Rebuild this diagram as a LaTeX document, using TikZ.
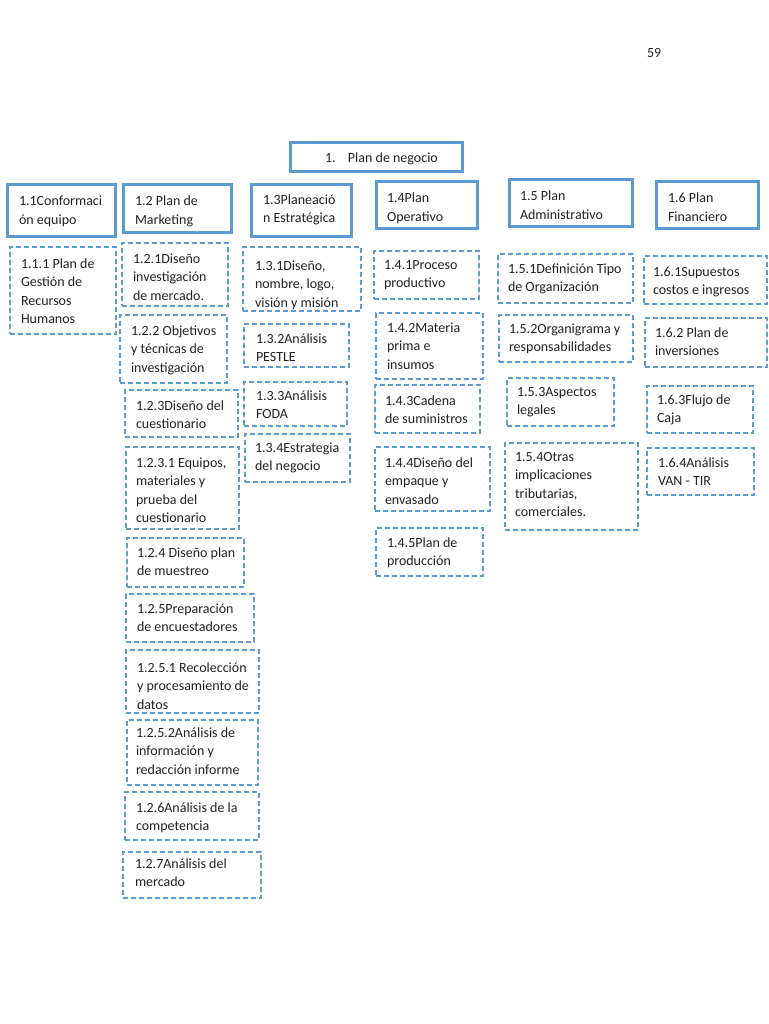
\documentclass[tikz,border=0pt]{standalone}
\usepackage{fontspec}
\setmainfont{Carlito}
\definecolor{bblue}{HTML}{5B9BD5}
\definecolor{txtc}{HTML}{222222}
\tikzset{
  solidbox/.style={draw=bblue, line width=3pt, inner sep=0pt, outer sep=0pt},
  dashbox/.style={draw=bblue, line width=1.4pt, dash pattern=on 5pt off 3pt, inner sep=0pt, outer sep=0pt},
  lbl/.style={anchor=north west, inner sep=0pt, outer sep=0pt, align=left, text=txtc,
    font=\fontsize{14}{18.5}\selectfont},
}
\newcommand\mybox[6]{\node[#6, minimum width={(#4-#2)*1pt}, minimum height={(#5-#3)*1pt}, anchor=north west] (#1) at (#2,#3) {};}
\newcommand\mytext[4]{\node[lbl] (#1) at (#2,{#3-12.95}) {\strut#4};}
\begin{document}
\begin{tikzpicture}[x=1pt,y=-1pt]
\fill[white] (0,0) rectangle (768,1024);
\useasboundingbox (0,0) rectangle (768,1024);

% page number
\mytext{pg}{647}{58}{59}

% root
\mybox{b1}{290}{143}{462}{172}{solidbox}
\mytext{t1}{325}{163}{\makebox[23pt][l]{1.}Plan de negocio}

% level 1
\mybox{b11}{7}{185}{115}{236}{solidbox}
\mytext{t11}{19}{206}{1.1Conformaci\\ón equipo}
\mybox{b12}{123}{185}{231}{233}{solidbox}
\mytext{t12}{135}{206}{1.2 Plan de\\Marketing}
\mybox{b13}{251}{185}{351}{236}{solidbox}
\mytext{t13}{263}{204}{1.3Planeació\\n Estratégica}
\mybox{b14}{376}{182}{477}{229}{solidbox}
\mytext{t14}{387}{203}{1.4Plan\\Operativo}
\mybox{b15}{509}{180}{632}{227}{solidbox}
\mytext{t15}{520}{201}{1.5 Plan\\Administrativo}
\mybox{b16}{656}{182}{758}{229}{solidbox}
\mytext{t16}{668}{203}{1.6 Plan\\Financiero}

% column 1.1
\mybox{b111}{10}{247}{116}{334}{dashbox}
\mytext{t111}{21}{268}{1.1.1 Plan de\\Gestión de\\Recursos\\Humanos}

% column 1.2
\mybox{b121}{122}{243}{228}{306}{dashbox}
\mytext{t121}{133}{263}{1.2.1Diseño\\investigación\\de mercado.}
\mybox{b122}{120}{315}{227}{383}{dashbox}
\mytext{t122}{131}{335}{1.2.2 Objetivos\\y técnicas de\\investigación}
\mybox{b123}{125}{390}{238}{437}{dashbox}
\mytext{t123}{136}{410}{1.2.3Diseño del\\cuestionario}
\mybox{b1231}{126}{447}{239}{529}{dashbox}
\mytext{t1231}{136}{467}{1.2.3.1 Equipos,\\materiales y\\prueba del\\cuestionario}
\mybox{b124}{127}{538}{244}{587}{dashbox}
\mytext{t124}{137}{557}{1.2.4 Diseño plan\\de muestreo}
\mybox{b125}{126}{594}{254}{642}{dashbox}
\mytext{t125}{137}{613}{1.2.5Preparación\\de encuestadores}
\mybox{b1251}{126}{650}{259}{713}{dashbox}
\mytext{t1251}{137}{672}{1.2.5.1 Recolección\\y procesamiento de\\datos}
\mybox{b1252}{127}{720}{258}{785}{dashbox}
\mytext{t1252}{136}{737}{1.2.5.2Análisis de\\información y\\redacción informe}
\mybox{b126}{125}{792}{259}{840}{dashbox}
\mytext{t126}{136}{812}{1.2.6Análisis de la\\competencia}
\mybox{b127}{123}{852}{261}{898}{dashbox}
\mytext{t127}{135}{868}{1.2.7Análisis del\\mercado}

% column 1.3
\mybox{b131}{243}{247}{361}{311}{dashbox}
\mytext{t131}{255}{270}{1.3.1Diseño,\\nombre, logo,\\visión y misión}
\mybox{b132}{244}{324}{349}{367}{dashbox}
\mytext{t132}{256}{343}{1.3.2Análisis\\PESTLE}
\mybox{b133}{244}{382}{347}{426}{dashbox}
\mytext{t133}{256}{400}{1.3.3Análisis\\FODA}
\mybox{b134}{245}{434}{350}{482}{dashbox}
\mytext{t134}{255}{452}{1.3.4Estrategia\\del negocio}

% column 1.4
\mybox{b141}{374}{251}{479}{299}{dashbox}
\mytext{t141}{384}{269}{1.4.1Proceso\\productivo}
\mybox{b142}{376}{313}{483}{379}{dashbox}
\mytext{t142}{387}{332}{1.4.2Materia\\prima e\\insumos}
\mybox{b143}{375}{385}{480}{433}{dashbox}
\mytext{t143}{385}{405}{1.4.3Cadena\\de suministros}
\mybox{b144}{375}{447}{490}{511}{dashbox}
\mytext{t144}{385}{467}{1.4.4Diseño del\\empaque y\\envasado}
\mybox{b145}{376}{528}{483}{576}{dashbox}
\mytext{t145}{387}{547}{1.4.5Plan de\\producción}

% column 1.5
\mybox{b151}{498}{254}{633}{303}{dashbox}
\mytext{t151}{508}{273}{1.5.1Definición Tipo\\de Organización}
\mybox{b152}{499}{315}{633}{362}{dashbox}
\mytext{t152}{509}{333}{1.5.2Organigrama y\\responsabilidades}
\mybox{b153}{507}{378}{614}{426}{dashbox}
\mytext{t153}{517}{396}{1.5.3Aspectos\\legales}
\mybox{b154}{505}{443}{638}{530}{dashbox}
\mytext{t154}{515}{461}{1.5.4Otras\\implicaciones\\tributarias,\\comerciales.}

% column 1.6
\mybox{b161}{644}{256}{767}{304}{dashbox}
\mytext{t161}{653}{276}{1.6.1Supuestos\\costos e ingresos}
\mybox{b162}{645}{318}{767}{367}{dashbox}
\mytext{t162}{655}{337}{1.6.2 Plan de\\inversiones}
\mybox{b163}{647}{386}{753}{433}{dashbox}
\mytext{t163}{657}{404}{1.6.3Flujo de\\Caja}
\mybox{b164}{647}{448}{754}{495}{dashbox}
\mytext{t164}{658}{467}{1.6.4Análisis\\VAN - TIR}
\end{tikzpicture}
\end{document}
